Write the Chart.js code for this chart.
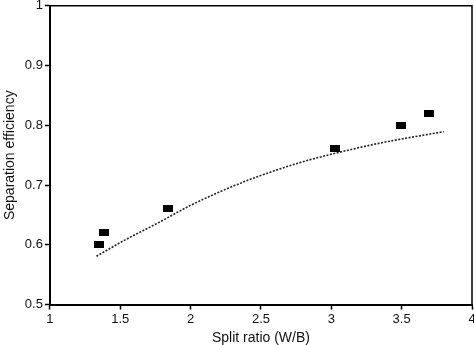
<!DOCTYPE html>
<html>
<head>
<meta charset="utf-8">
<script src="https://cdn.jsdelivr.net/npm/chart.js@4/dist/chart.umd.min.js"></script>
<style>
  html, body { margin: 0; padding: 0; background: #fff; overflow: hidden; width: 474px; height: 345px; }
  #wrap { position: absolute; left: 0; top: -4px; width: 478px; height: 351px; }
</style>
</head>
<body>
<div id="wrap"><canvas id="chart"></canvas></div>
<script>
// measured points
const splitRatio = [1.352, 1.383, 1.836, 3.025, 3.495, 3.692];
const efficiency = [0.601, 0.621, 0.660, 0.761, 0.800, 0.819];

// dotted trend line
const fitX = [1.331, 1.525, 1.763, 2.0, 2.24, 2.498, 2.783, 3.068, 3.352, 3.80];
const fitY = [0.581, 0.607, 0.636, 0.666, 0.692, 0.716, 0.738, 0.7555, 0.7705, 0.7895];

const xTicks = [1, 1.5, 2, 2.5, 3, 3.5, 4];
const yTicks = [0.5, 0.6, 0.7, 0.8, 0.9, 1];

// little black rectangle marker
const marker = document.createElement('canvas');
marker.width = 10;
marker.height = 7;
const mctx = marker.getContext('2d');
mctx.fillStyle = '#000';
mctx.fillRect(0, 0, 10, 7);

const frame = {
  id: 'frame',
  afterDraw(chart) {
    const { ctx, chartArea: a } = chart;
    ctx.save();
    ctx.strokeStyle = '#000';
    ctx.lineWidth = 1.5;
    ctx.beginPath();
    ctx.moveTo(a.left, a.top);
    ctx.lineTo(a.right, a.top);
    ctx.lineTo(a.right, a.bottom);
    ctx.stroke();
    ctx.restore();
  }
};

const tickFont = { family: 'Liberation Sans', size: 13 };
const titleFont = { family: 'Liberation Sans', size: 14 };

new Chart(document.getElementById('chart'), {
  type: 'scatter',
  data: {
    datasets: [
      {
        label: 'fit',
        data: fitX.map((x, i) => ({ x: x, y: fitY[i] })),
        showLine: true,
        borderColor: '#222',
        borderWidth: 1.6,
        borderDash: [2, 1.5],
        pointRadius: 0,
        cubicInterpolationMode: 'monotone',
        fill: false
      },
      {
        label: 'data',
        data: splitRatio.map((x, i) => ({ x: x, y: efficiency[i] })),
        pointStyle: marker,
        pointRadius: 5
      }
    ]
  },
  options: {
    responsive: true,
    maintainAspectRatio: false,
    animation: false,
    layout: { padding: { top: 0, right: 0, left: 2, bottom: 0 } },
    plugins: {
      legend: { display: false },
      tooltip: { enabled: false }
    },
    scales: {
      x: {
        type: 'linear',
        min: 1,
        max: 4,
        afterBuildTicks: (s) => { s.ticks = xTicks.map(v => ({ value: v })); },
        ticks: { color: '#111', font: tickFont, padding: 2, callback: v => String(v) },
        grid: { drawOnChartArea: false, drawTicks: true, tickLength: 5, tickColor: '#000', tickWidth: 1.5 },
        border: { display: true, color: '#000', width: 2 },
        title: { display: true, text: 'Split ratio (W/B)', color: '#111', font: titleFont, padding: { top: 1, bottom: 0 } }
      },
      y: {
        type: 'linear',
        min: 0.5,
        max: 1,
        afterBuildTicks: (s) => { s.ticks = yTicks.map(v => ({ value: v })); },
        ticks: { color: '#111', font: tickFont, padding: 2, callback: v => String(Math.round(v * 10) / 10) },
        grid: { drawOnChartArea: false, drawTicks: true, tickLength: 5, tickColor: '#000', tickWidth: 1.5 },
        border: { display: true, color: '#000', width: 2 },
        title: { display: true, text: 'Separation efficiency', color: '#111', font: titleFont, padding: { top: 0, bottom: 4 } }
      }
    }
  },
  plugins: [frame]
});
</script>
</body>
</html>
